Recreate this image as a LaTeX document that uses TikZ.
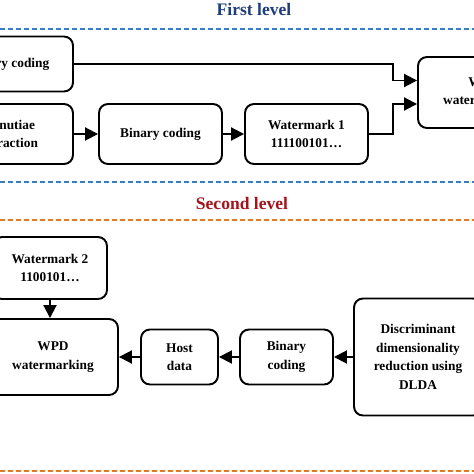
\documentclass[tikz,border=0pt]{standalone}
\usepackage{fontspec}
\setmainfont{Liberation Serif}
\usetikzlibrary{arrows.meta}
\definecolor{levelblue}{HTML}{1F3D7A}
\definecolor{levelred}{HTML}{A3141C}
\definecolor{sepblue}{HTML}{3B7DC0}
\definecolor{seporange}{HTML}{E07B2E}
\def\firstLevel{{(9,64)/bcOne/2.56cm/1.1cm/Binary coding}, {(9,134)/mex/2.56cm/1.2cm/Minutiae\\extraction}, {(160.5,134)/bcTwo/2.46cm/1.2cm/Binary coding}, {(306.5,134)/wmOne/2.46cm/1.2cm/Watermark 1\\111100101\ldots}, {(484,92.5)/wpdOne/2.64cm/1.42cm/WPD\\watermarking}}
\def\secondLevel{{(50,268)/wmTwo/2.28cm/1.24cm/Watermark 2\\1100101\ldots}, {(53,357)/wpdTwo/2.6cm/1.52cm/WPD\\watermarking}, {(179.5,357)/host/1.54cm/1.1cm/Host\\data}, {(286.5,357)/bcThree/1.86cm/1.1cm/Binary\\coding}, {(418,357)/dlda/2.56cm/2.34cm/Discriminant\\dimensionality\\reduction using\\DLDA}}
\def\chainOne{mex/bcTwo, bcTwo/wmOne}
\def\chainTwo{dlda/bcThree, bcThree/host, host/wpdTwo}
\tikzstyle{block}=[draw, line width=1.1pt, rounded corners=0.18cm, align=center, inner sep=1pt, font=\bfseries\fontsize{7.6}{10.5}\selectfont]
\tikzstyle{link}=[draw, line width=1.1pt, -{Triangle[length=0.26cm,width=0.26cm]}]
\tikzstyle{title}=[font=\bfseries\fontsize{10}{12}\selectfont]
\tikzstyle{separator}=[line width=1.1pt, dash pattern=on 0.1cm off 0.06cm]

\begin{document}
\begin{tikzpicture}[x=0.02cm, y=-0.02cm]
  \useasboundingbox (0,0) rectangle (474,474);
  \clip (0,0) rectangle (474,474);

  % Level titles and separators
  \node[title, text=levelblue] (first) at (254,9) {First level};
  \node[title, text=levelred] (second) at (242,203) {Second level};
  \foreach \y/\col in {29/sepblue, 182/sepblue, 220/seporange, 471/seporange} {
    \draw[separator, \col] (0,\y) -- (474,\y);
    }

  % The blocks of both levels
  \foreach \pos/\name/\w/\h/\txt in \firstLevel {
    \node[block, minimum width=\w, minimum height=\h] (\name) at \pos {\txt};
    }
  \foreach \pos/\name/\w/\h/\txt in \secondLevel {
    \node[block, minimum width=\w, minimum height=\h] (\name) at \pos {\txt};
    }

  % First level connections
  \foreach \source/\dest in \chainOne {
    \path[link] (\source) -- (\dest);
    }
  \path[link] (bcOne.east) -- ++(319,0) |- ([yshift=0.24cm]wpdOne.west);
  \path[link] (wmOne.east) -- ++(24,0) |- ([yshift=-0.23cm]wpdOne.west);

  % Second level connections
  \path[link] (wmTwo.south) -- (wmTwo.south |- wpdTwo.north);
  \foreach \source/\dest in \chainTwo {
    \path[link] (\source) -- (\dest);
    }
\end{tikzpicture}
\end{document}
